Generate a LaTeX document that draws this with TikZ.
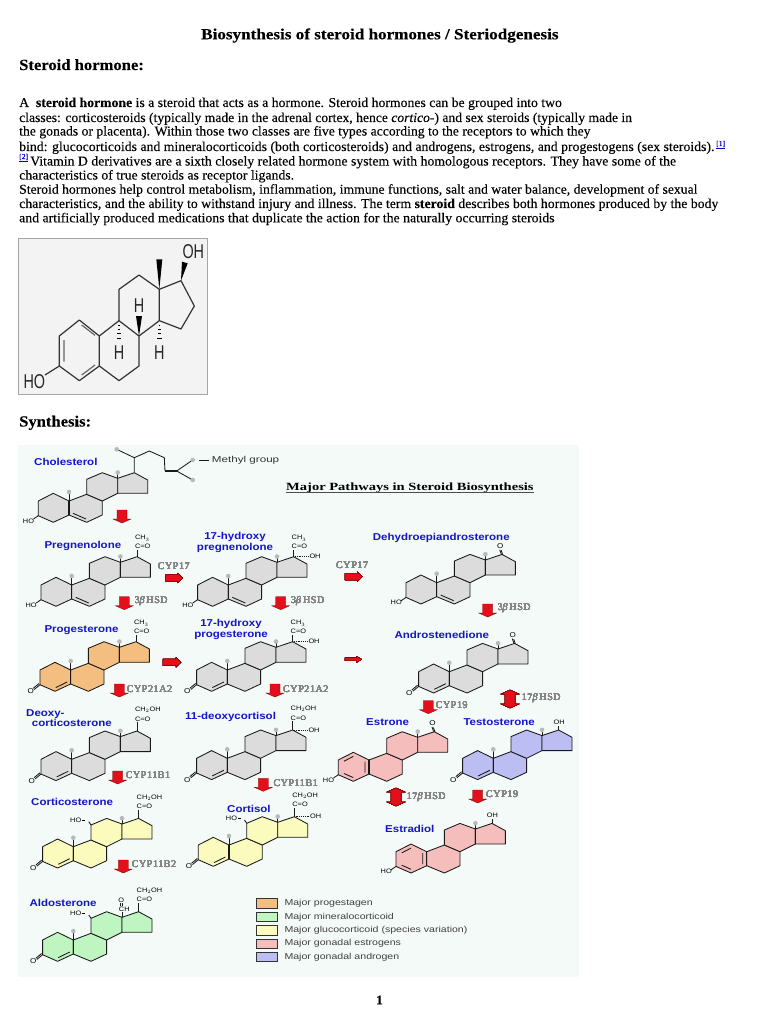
\documentclass[tikz,border=0pt]{standalone}
\usepackage{fontspec}
\setmainfont[FakeStretch=1.02,FakeBold=0.12]{Liberation Serif}
\newfontfamily\labfont[FakeStretch=1.15]{Liberation Sans}
\newfontfamily\figfont{Liberation Sans}
\newfontfamily\enzfont[LetterSpace=6]{Liberation Serif}
\newfontfamily\majfont[FakeStretch=1.32]{Liberation Serif}
\definecolor{panelbg}{HTML}{F4FAF7}
\definecolor{boxbg}{HTML}{F3F3F3}
\definecolor{grayring}{HTML}{DCDCDC}
\definecolor{orangering}{HTML}{F4BE80}
\definecolor{greenring}{HTML}{BFF5C0}
\definecolor{yellowring}{HTML}{FBFBBE}
\definecolor{pinkring}{HTML}{F6BDBD}
\definecolor{violetring}{HTML}{BCBDF2}
\definecolor{molblue}{HTML}{1414C8}
\definecolor{arrowred}{HTML}{E3101C}
\tikzset{
  bodyline/.style={anchor=base west,inner sep=0pt,font=\fontsize{13.5}{15}\selectfont},
  heading/.style={anchor=base west,inner sep=0pt,xscale=1.05,font=\fontsize{15.5}{17}\selectfont\bfseries},
  molname/.style={anchor=west,inner sep=0pt,text=molblue,font=\labfont\fontsize{10}{11}\selectfont\bfseries},
  enzname/.style={anchor=west,inner sep=0pt,text=black!48,font=\enzfont\fontsize{10}{11}\selectfont},
  chem/.style={inner sep=0pt,text=black,font=\labfont\fontsize{6.4}{7}\selectfont},
  legtext/.style={anchor=west,inner sep=0pt,text=black!75,xscale=1.07,font=\labfont\fontsize{8.6}{9}\selectfont},
  bond/.style={draw=black!90,line width=.85pt,line join=round},
  redarr/.style={fill=arrowred,draw=red!45!black,line width=.3pt,line join=miter},
  legswatch/.style={draw=black!80,line width=.7pt},
  reflink/.style={anchor=base west,inner sep=0pt,text=blue!75!black,font=\fontsize{7.5}{8}\selectfont}
}
% rings in local pixels, origin at the junction of rings A and B
\newcommand{\steroid}[4]{%
\begin{scope}[shift={(#1,#2)}]
  \filldraw[bond,fill=#3] (-30.7,0) -- (-15.7,-7.7) -- (0,0) -- (0,14) -- (-15.7,21.3) -- (-30.7,14.7) -- cycle;
  \filldraw[bond,fill=#3] (0,0) -- (17.7,-6.7) -- (33.3,0) -- (33.3,14) -- (17.7,21.3) -- (0,14) -- cycle;
  \filldraw[bond,fill=#3] (17.7,-6.7) -- (17.7,-21.7) -- (33.3,-28.3) -- (48.7,-22.7) -- (48.7,-7.7) -- (33.3,0) -- cycle;
  \filldraw[bond,fill=#3] (48.7,-22.7) -- (65.3,-28.3) -- (78.7,-21) -- (78.7,-7.7) -- (48.7,-7.7) -- cycle;
  \draw[bond,line width=1.1pt] (0,0) -- (0,14);
  #4
\end{scope}}
\newcommand{\mtTen}{\draw[bond] (0,0) -- (0,-7); \fill[gray!55] (0,-9) circle (2.3);}
\newcommand{\mtEight}{\draw[bond] (48.7,-22.7) -- (48.7,-27); \fill[gray!55] (48.7,-28.5) circle (2.3);}
\newcommand{\dbSix}{\draw[bond] (4,12.3) -- (17,18);}
\newcommand{\dbFour}{\draw[bond] (-15,17.6) -- (-3.5,12);}
\newcommand{\hoThree}{\draw[bond] (-30.7,14.7) -- (-35.5,18); \node[chem] (ho) at (-40.5,19.8) {HO};}
\newcommand{\oxThree}{\draw[bond] (-30.7,14.7) -- (-36.5,19.5); \draw[bond] (-31.7,13.5) -- (-37.5,18.3); \node[chem,font=\labfont\fontsize{7}{8}\selectfont] (ox) at (-40,21.5) {O};}
\newcommand{\pregChain}{\draw[bond] (65.3,-28.3) -- (65.3,-35); \node[chem,anchor=west] (co) at (63.2,-38.3) {C=O}; \node[chem,anchor=west] (ch) at (63.2,-46.7) {CH$_3$};}
\newcommand{\cortChain}{\draw[bond] (65.3,-28.3) -- (65.3,-37); \node[chem,anchor=west] (co) at (63.2,-40.5) {C=O}; \node[chem,anchor=west] (ch) at (63.2,-49.3) {CH$_2$OH};}
\newcommand{\ohDash}{\draw[bond,densely dotted] (66.5,-28.3) -- (81,-28.3); \node[chem,anchor=west] (oh) at (81,-28.3) {OH};}
\newcommand{\oxTop}{\draw[bond] (64.6,-28.5) -- (63,-33); \draw[bond] (66,-28) -- (64.4,-32.5); \node[chem,font=\labfont\fontsize{7}{8}\selectfont] (ox) at (63.5,-37) {O};}
\newcommand{\ohTop}{\draw[bond] (65.3,-28.3) -- (65.3,-32.5); \node[chem] (oh) at (65.8,-36) {OH};}
\newcommand{\hoEleven}{\draw[bond] (17.7,-21.7) -- (15.5,-25); \node[chem] (ho) at (4.5,-26.7) {HO\,\rule[1.8pt]{3pt}{.5pt}};}
\newcommand{\aroA}{\draw[bond] (-25,1.2) -- (-15.7,-3.6) (-4,1.5) -- (-4,12.5) (-25,13.5) -- (-15.7,17.6);}
\newcommand{\arrDown}[2]{\path[redarr] (#1-5,#2) -- (#1+5,#2) -- (#1+5,#2+9) -- (#1+9,#2+9) -- (#1,#2+13) -- (#1-9,#2+9) -- (#1-5,#2+9) -- cycle;}
\newcommand{\arrRight}[4]{\path[redarr] (#1,#3-#4) -- (#2-5,#3-#4) -- (#2-5,#3-#4-1.5) -- (#2,#3) -- (#2-5,#3+#4+1.5) -- (#2-5,#3+#4) -- (#1,#3+#4) -- cycle;}
\newcommand{\arrBoth}[3]{\path[redarr] (#1-5,#2+4) -- (#1-9,#2+4) -- (#1,#2) -- (#1+9,#2+4) -- (#1+5,#2+4) -- (#1+5,#3-4) -- (#1+9,#3-4) -- (#1,#3) -- (#1-9,#3-4) -- (#1-5,#3-4) -- cycle;}
\newcommand{\bhsd}{{\itshape β}\kern2pt HSD}
\begin{document}
\begin{tikzpicture}[x=1pt,y=-1pt]
\useasboundingbox[fill=white] (0,0) rectangle (768,1024);
% page text
\node[heading,xscale=1.03] (title) at (201,39.3) {Biosynthesis of steroid hormones / Steriodgenesis};
\node[heading] (hd1) at (19,70) {Steroid hormone:};
\node[bodyline,xscale=.997] (ln1) at (19,107) {A\ \ \textbf{steroid hormone} is a steroid that acts as a hormone. Steroid hormones can be grouped into two};
\node[bodyline,xscale=.99] (ln2) at (19,122) {classes: corticosteroids (typically made in the adrenal cortex, hence \textit{cortico}-) and sex steroids (typically made in};
\node[bodyline,xscale=.995] (ln3) at (19,135.5) {the gonads or placenta). Within those two classes are five types according to the receptors to which they};
\node[bodyline] (ln4) at (19,151) {bind: glucocorticoids and mineralocorticoids (both corticosteroids) and androgens, estrogens, and progestogens (sex steroids).};
\node[reflink] (ref1) at (716,146) {\underline{[1]}};
\node[reflink] (ref2) at (19,159) {\underline{[2]}};
\node[bodyline] (ln5) at (30,165.5) {Vitamin D derivatives are a sixth closely related hormone system with homologous receptors. They have some of the};
\node[bodyline] (ln6) at (19,179.5) {characteristics of true steroids as receptor ligands.};
\node[bodyline,xscale=.993] (ln7) at (19,193.7) {Steroid hormones help control metabolism, inflammation, immune functions, salt and water balance, development of sexual};
\node[bodyline] (ln8) at (19,208) {characteristics, and the ability to withstand injury and illness. The term \textbf{steroid} describes both hormones produced by the body};
\node[bodyline] (ln9) at (19,222.3) {and artificially produced medications that duplicate the action for the naturally occurring steroids};
\node[heading] (hd2) at (19,426.5) {Synthesis:};
\node[inner sep=0pt,font=\fontsize{13}{14}\selectfont\bfseries] (pg) at (379.5,1000) {1};
% estradiol picture, in its own 3x coordinates
\begin{scope}[shift={(0,230)},scale=1/3]
  \filldraw[fill=boxbg,draw=black!35,line width=.5pt] (55,25) rectangle (621,492);
  \draw[black!80,line width=1.2pt,line join=round] (178,318) -- (238,270) -- (298,318) -- (298,408) -- (238,452) -- (178,408) -- cycle
    (298,318) -- (357,272) -- (417,318) -- (417,408) -- (357,452) -- (298,408)
    (357,272) -- (357,178) -- (417,135) -- (478,178) -- (478,272) -- (417,318)
    (478,178) -- (543,152) -- (583,228) -- (543,297) -- (478,272)
    (178,408) -- (135,435);
  \draw[black!60,line width=1.2pt] (192,330) -- (192,395) (245,285) -- (285,316) (245,435) -- (285,405);
  \fill (478,178) -- (469,88) -- (487,88) -- cycle;
  \fill (543,152) -- (546,95) -- (563,100) -- cycle;
  \fill (417,318) -- (408,258) -- (426,258) -- cycle;
  \foreach \c in {357,478}
    \foreach \d in {0,1,2,3}
      \draw[black,line width=.9pt] ({\c-2-\d*1.6},{285+\d*13}) -- ({\c+2+\d*1.6},{285+\d*13});
  \foreach \x/\y/\t [count=\i] in {417/228/H,357/368/H,478/368/H,103/455/HO,580/65/OH}
    \node[inner sep=0pt,text=black!85,font=\figfont\fontsize{20}{22}\selectfont,xscale=.72] (atom\i) at (\x,\y) {\t};
\end{scope}
% synthesis panel
\fill[panelbg] (18,445) rectangle (579,977);
\node[anchor=base west,inner sep=0pt,font=\majfont\fontsize{11}{12}\selectfont\bfseries] (maj) at (286,490.5) {Major Pathways in Steroid Biosynthesis};
\draw[black!70,line width=.7pt] (maj.base west) ++(0,2.2) -- ++(248,0);
\foreach \x/\y/\t [count=\i] in {34/462.3/Cholesterol,44.3/546/Pregnenolone,372.7/538.3/Dehydroepiandrosterone,44.3/630/Progesterone,394.3/635/Androstenedione,26/714.3/Deoxy-,31.7/722.7/corticosterone,185/717.3/11-deoxycortisol,366/721.7/Estrone,463.3/721.7/Testosterone,31/802.3/Corticosterone,227/809.3/Cortisol,385/829.3/Estradiol,29.3/902.7/Aldosterone}
  \node[molname] (mol\i) at (\x,\y) {\t};
\foreach \x/\y/\t [count=\i] in {235/537.3/17-hydroxy,235/547.7/pregnenolone,231/624.3/17-hydroxy,231/635/progesterone}
  \node[molname,anchor=center] (hyd\i) at (\x,\y) {\t};
% skeletons
\steroid{69}{501}{grayring}{\mtTen\mtEight\dbSix\hoThree
  \draw[bond] (65.3,-28.3) -- (65.3,-43.3) -- (47.7,-51.7) (65.3,-43.3) -- (80.3,-50) -- (95.3,-43.3) -- (96,-30) (107.7,-30) -- (123.7,-41) (107.7,-30) -- (123.7,-21);
  \draw[bond,line width=1.3pt] (96,-30) -- (107.7,-30);
  \foreach \p in {(47.7,-51.7),(123.7,-41),(123.7,-21)} \fill[gray!55] \p circle (2.3);}
\steroid{71.7}{585}{grayring}{\mtTen\mtEight\dbSix\hoThree\pregChain}
\steroid{228.3}{585}{grayring}{\mtTen\mtEight\dbSix\hoThree\pregChain\ohDash}
\steroid{436.7}{582.7}{grayring}{\mtTen\mtEight\dbSix\hoThree\oxTop}
\steroid{70.7}{670}{orangering}{\mtTen\mtEight\dbFour\oxThree\pregChain}
\steroid{227.3}{670}{grayring}{\mtTen\mtEight\dbFour\oxThree\pregChain\ohDash}
\steroid{449.3}{671.7}{grayring}{\mtTen\mtEight\dbFour\oxThree\oxTop}
\steroid{71.7}{759.3}{grayring}{\mtTen\mtEight\dbFour\oxThree\cortChain}
\steroid{227.3}{758.3}{grayring}{\mtTen\mtEight\dbFour\oxThree\cortChain\ohDash}
\steroid{369}{760}{pinkring}{\mtEight\aroA\hoThree\oxTop}
\steroid{493.3}{758.3}{violetring}{\mtTen\mtEight\dbFour\oxThree\ohTop}
\steroid{73.3}{846.7}{yellowring}{\mtTen\mtEight\dbFour\oxThree\cortChain\hoEleven}
\steroid{229}{845}{yellowring}{\mtTen\mtEight\dbFour\oxThree\cortChain\ohDash\hoEleven}
\steroid{426.7}{851.7}{pinkring}{\mtEight\aroA\hoThree\ohTop}
\steroid{73.3}{940}{greenring}{\mtTen\dbFour\oxThree\cortChain\hoEleven
  \draw[bond] (48.7,-22.7) -- (48.7,-28) (47.3,-33.7) -- (47.3,-36.7) (49,-33.7) -- (49,-36.7);
  \node[chem] (alch) at (51,-31) {CH}; \node[chem] (alox) at (48,-39.6) {O};}
% methyl group note
\draw[bond] (199,460) -- (209,460);
\node[legtext,text=black!80,xscale=1.1] (mth) at (211.7,460) {Methyl group};
% arrows
\foreach \x/\y in {122/510,124.3/596.7,280.7/596.7,487.7/604,119.3/684,275/684,428.3/700.7,117.7/771,263.3/778.3,123.3/860,477.7/790}
  \arrDown{\x}{\y}
\arrRight{165.7}{182.7}{578}{3.3}
\arrRight{345}{362.3}{576.7}{3.3}
\arrRight{163}{181}{662.3}{3.3}
\arrRight{345}{361.7}{659.3}{1.5}
\arrBoth{510}{690}{708}
\arrBoth{396}{788}{806}
% enzyme labels
\foreach \x/\y/\t [count=\i] in {157.7/566.7/CYP17,134.3/601/3\bhsd,291/601/3\bhsd,336/565.3/CYP17,497.3/608/3\bhsd,126.7/689/CYP21A2,283/689/CYP21A2,435.7/705/CYP19,521.7/698.3/17\bhsd,125.7/775.7/CYP11B1,273.3/783/CYP11B1,131.7/864.3/CYP11B2,406.7/797.3/17\bhsd,486/794/CYP19}
  \node[enzname] (enz\i) at (\x,\y) {\t};
% legend
\foreach \y/\c/\t [count=\i] in {903.3/orangering/Major progestagen,917/greenring/Major mineralocorticoid,930.4/yellowring/Major glucocorticoid (species variation),943.6/pinkring/Major gonadal estrogens,957/violetring/Major gonadal androgen}{
  \filldraw[legswatch,fill=\c] (256.7,\y-4.6) rectangle (277.7,\y+4.6);
  \node[legtext] (leg\i) at (284.3,\y) {\t};}
\end{tikzpicture}
\end{document}
